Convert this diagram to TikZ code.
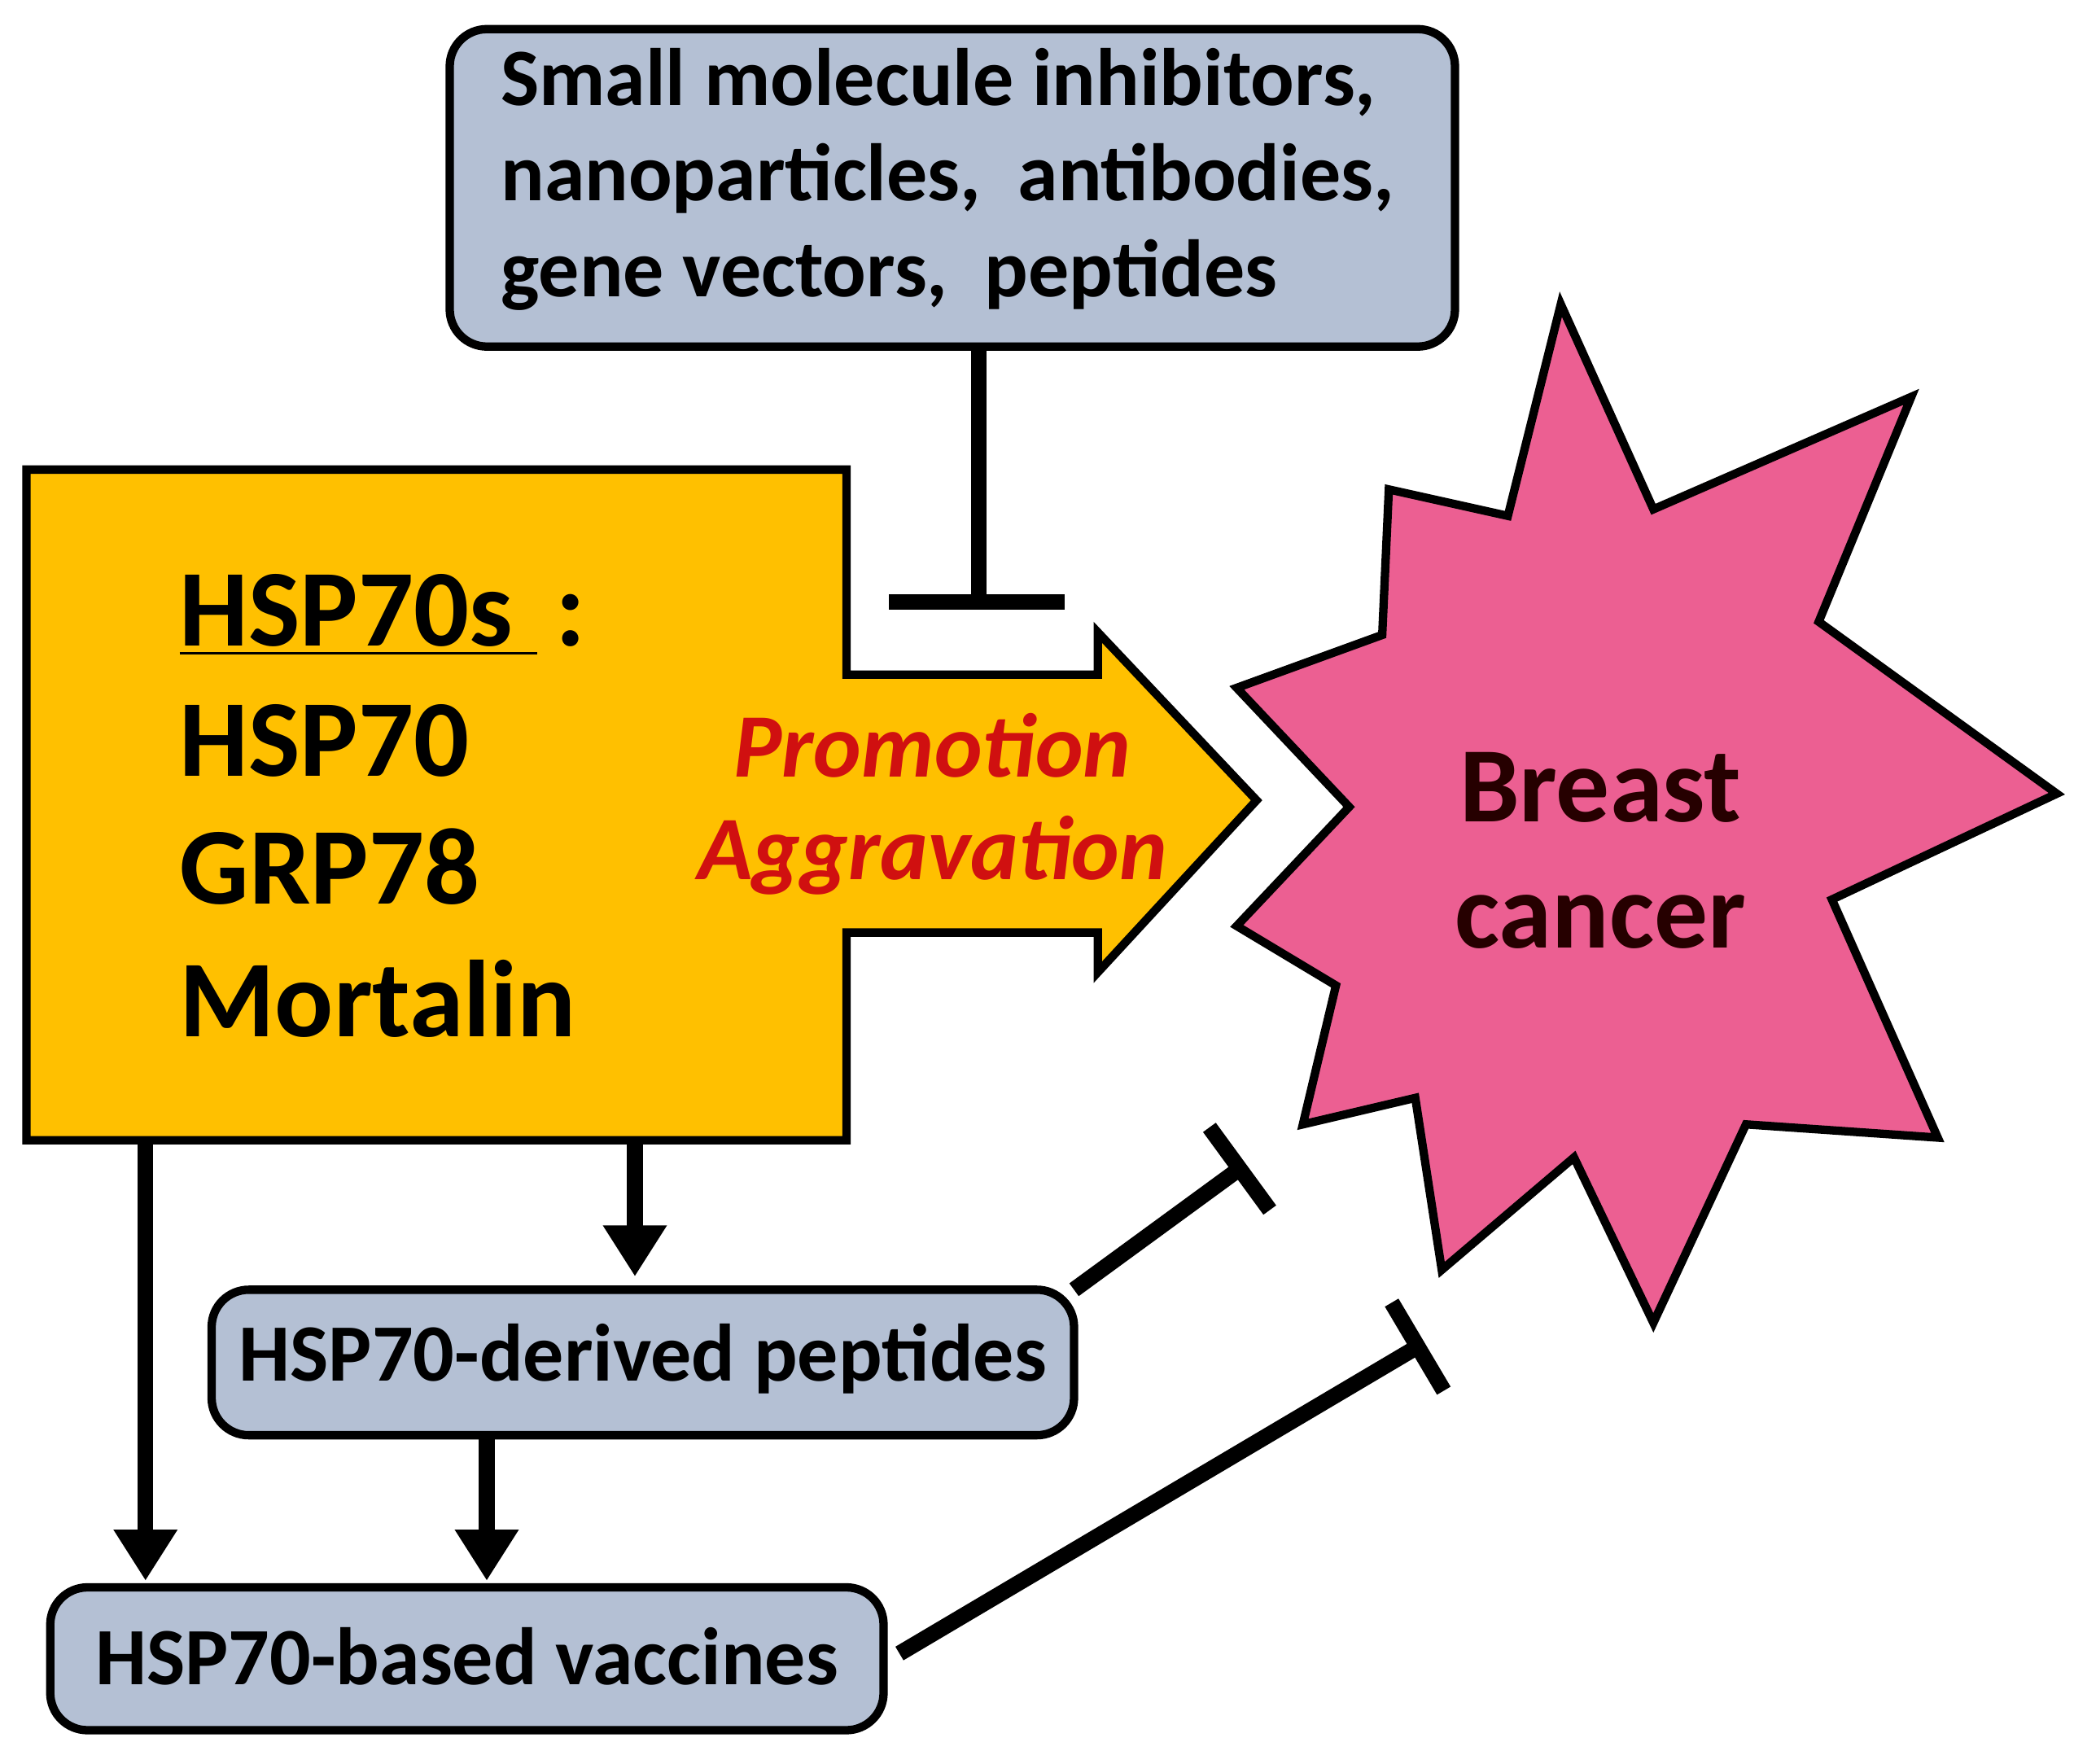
\documentclass[tikz,border=0pt]{standalone}
\usepackage{fontspec}
\setmainfont{Carlito}
\usetikzlibrary{arrows.meta}
\definecolor{boxgray}{HTML}{B4C0D4}
\definecolor{orng}{HTML}{FFC000}
\definecolor{pinkc}{HTML}{EC5F92}
\definecolor{redt}{HTML}{D01010}
\begin{document}
\begin{tikzpicture}[x=0.01cm,y=-0.01cm,
  gbox/.style={draw=black,line width=1.8pt,fill=boxgray,rounded corners=8pt},
  conn/.style={line width=3.4pt},
  arr/.style={conn,-{Triangle[length=11pt,width=13pt]}},
  inh/.style={conn,-{Bar[width=22pt,line width=3.4pt]}},
  big/.style={font=\fontsize{23.5}{28}\selectfont\bfseries,anchor=west,inner sep=0pt}]
\useasboundingbox (0,0) rectangle (1568,1333);
% top box
\draw[gbox] (340,22) rectangle (1100,262);
\coordinate (topb) at (740,262);
\node[font=\fontsize{17.5}{21}\selectfont\bfseries,align=left,anchor=west,inner sep=0pt] (toptxt) at (378,62) {Small molecule inhibitors,};
\node[font=\fontsize{17.5}{21}\selectfont\bfseries,align=left,anchor=west,inner sep=0pt] (toptxt2) at (378,135) {nanoparticles,\ \ antibodies,};
\node[font=\fontsize{17.5}{21}\selectfont\bfseries,align=left,anchor=west,inner sep=0pt] (toptxt3) at (378,208) {gene vectors,\ \ peptides};
% orange shape
\draw[line width=1.8pt,fill=orng] (20,355) -- (640,355) -- (640,510) -- (830,510) -- (830,478) -- (950,605)
  -- (830,735) -- (830,705) -- (640,705) -- (640,862) -- (20,862) -- cycle;
\coordinate (orbA) at (110,862);
\coordinate (orbB) at (480,862);
\coordinate (inhend) at (740,455);
\node[big] (h0) at (135,465) {\underline{HSP70s\ }\,:};
\node[big] (h1) at (135,560) {HSP70};
\node[big] (h2) at (135,655) {GRP78};
\node[big] (h3) at (135,755) {Mortalin};
\node[font=\fontsize{19.5}{23}\selectfont\bfseries\itshape,text=redt,align=center,inner sep=0pt] (prom) at (705,608) {Promotion\\[-1pt]Aggravation};
% star
\draw[line width=1.8pt,fill=pinkc,line join=miter] (1180,230)--(1250,385)--(1445,300)--(1375,470)--(1555,600)--(1385,680)--(1465,860)--(1320,850)--(1250,1000)--(1190,875)--(1090,960)--(1070,830)--(985,850)--(1010,745)--(935,700)--(1020,610)--(935,520)--(1045,480)--(1050,370)--(1140,390)--cycle;
\node[font=\fontsize{23}{27}\selectfont\bfseries,text=black!85!red,align=center,inner sep=0pt] (bc) at (1210,643) {Breast\\cancer};
% bottom boxes
\draw[gbox] (160,975) rectangle (812,1085);
\node[font=\fontsize{17.5}{20}\selectfont\bfseries,inner sep=0pt] (pep) at (486,1027) {HSP70-derived peptides};
\draw[gbox] (38,1200) rectangle (668,1308);
\node[font=\fontsize{17.5}{20}\selectfont\bfseries,inner sep=0pt] (vac) at (353,1252) {HSP70-based vaccines};
% connectors
\draw[conn] (topb) -- (inhend);
\draw[conn] (672,455) -- (805,455);
\draw[arr] (orbB) -- (480,965);
\draw[arr] (orbA) -- (110,1195);
\draw[arr] (368,1085) -- (368,1195);
\draw[inh] (812,975) -- (942,880);
\draw[inh] (680,1250) -- (1077,1015);
\end{tikzpicture}
\end{document}
